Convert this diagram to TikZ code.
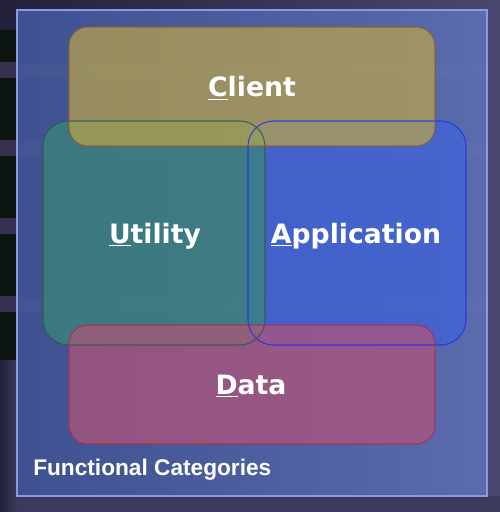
\documentclass[tikz,border=0pt]{standalone}
\usepackage{fontspec}
\newfontfamily\catfont{DejaVu Sans}
\newfontfamily\labfont{Liberation Sans}
\usetikzlibrary{shadings}
\definecolor{bgtop}{HTML}{22203A}
\definecolor{bgright}{HTML}{4A4770}
\definecolor{bgleft}{HTML}{0B140F}
\definecolor{bgband}{HTML}{34304E}
\definecolor{bgbottom}{HTML}{3C3A5C}
\definecolor{frameleft}{HTML}{3E5190}
\definecolor{frameright}{HTML}{5A6BAE}
\definecolor{frameline}{HTML}{8A9AE0}
\definecolor{clientfill}{HTML}{BCA64A}
\definecolor{clientline}{HTML}{8A5A3A}
\definecolor{utilfill}{HTML}{3A8878}
\definecolor{utilline}{HTML}{2A5A4A}
\definecolor{appfill}{HTML}{3F62DC}
\definecolor{appline}{HTML}{2430E6}
\definecolor{datafill}{HTML}{B65478}
\definecolor{dataline}{HTML}{A03050}
\tikzset{
  catfill/.style={fill opacity=0.7},
  catline/.style={line width=0.8pt, draw opacity=0.85},
  cattext/.style={text=white, font=\catfont\bfseries\fontsize{20}{24}\selectfont},
}
\begin{document}
\begin{tikzpicture}[x=0.75pt,y=-0.75pt]
\useasboundingbox (0,0) rectangle (500,512);
% background
\shade[left color=bgtop, right color=bgright] (0,0) rectangle (500,512);
\fill[bgleft] (0,30) rectangle (17,360);
\fill[bgband] (0,62) rectangle (17,78);
\fill[bgband] (0,140) rectangle (17,156);
\fill[bgband] (0,218) rectangle (17,234);
\fill[bgband] (0,296) rectangle (17,312);
\shade[left color=bgtop, right color=bgbottom] (0,360) rectangle (17,512);
\fill[bgbottom] (17,496) rectangle (500,512);
% frame
\shade[left color=frameleft, right color=frameright] (17,10) rectangle (487,496);
\fill[white, opacity=0.025] (17,64) rectangle (487,78);
\fill[white, opacity=0.025] (17,142) rectangle (487,156);
\fill[white, opacity=0.025] (17,298) rectangle (487,312);
\draw[frameline, line width=0.8pt] (17,10) rectangle (487,496);
% category fills
\fill[catfill, appfill, rounded corners=19pt] (248,121) rectangle (466,345);
\fill[catfill, utilfill, rounded corners=19pt] (43,121) rectangle (265,345);
\fill[catfill, datafill, rounded corners=14pt] (69,325) rectangle (435,444);
\fill[catfill, clientfill, rounded corners=14pt] (69,27) rectangle (435,146);
% category outlines
\draw[catline, appline, rounded corners=19pt] (248,121) rectangle (466,345);
\draw[catline, utilline, rounded corners=19pt] (43,121) rectangle (265,345);
\draw[catline, dataline, rounded corners=14pt] (69,325) rectangle (435,444);
\draw[catline, clientline, rounded corners=14pt] (69,27) rectangle (435,146);
% labels
\node[cattext] (client) at (252,88) {\underline{C}lient};
\node[cattext] (utility) at (155,236) {\underline{U}tility};
\node[cattext] (application) at (356,236) {\underline{A}pplication};
\node[cattext] (data) at (251,386) {\underline{D}ata};
\node[text=white, anchor=west, inner sep=0pt, font=\labfont\bfseries\fontsize{17}{20}\selectfont] (title) at (33,470) {Functional Categories};
\end{tikzpicture}
\end{document}
